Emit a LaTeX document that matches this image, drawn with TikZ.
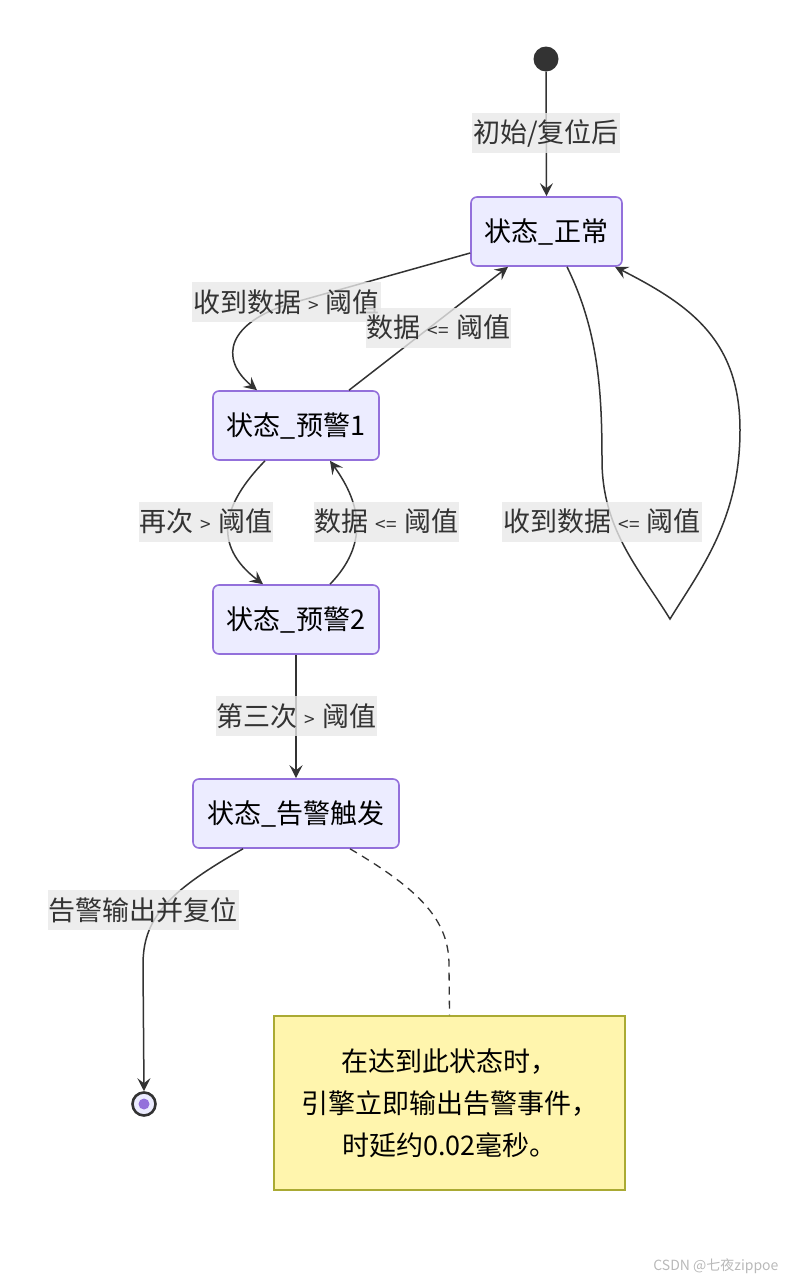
\documentclass[tikz,border=0pt]{standalone}
\usepackage{fontspec}
\setmainfont{Noto Sans CJK SC}
\usetikzlibrary{arrows.meta,calc}
\definecolor{stfill}{HTML}{ECECFF}
\definecolor{stdraw}{HTML}{9370DB}
\definecolor{ln}{HTML}{333333}
\definecolor{lblbg}{HTML}{E8E8E8}
\definecolor{notefill}{HTML}{FFF5AD}
\definecolor{notedraw}{HTML}{AAAA33}
\newcommand{\opsym}[1]{\hspace{7pt}{\fontsize{19}{20}\selectfont #1}\hspace{7pt}}
\tikzset{
  statebox/.style={draw=stdraw, fill=stfill, line width=1.6pt, rounded corners=6pt,
    minimum height=69pt, inner sep=0pt, font=\fontsize{27}{30}\selectfont, text=black},
  notebox/.style={draw=notedraw, fill=notefill, line width=1.6pt, minimum width=351pt,
    minimum height=174pt, inner sep=0pt, align=center, font=\fontsize{27}{42}\selectfont, text=black},
  edge/.style={draw=ln, line width=1.5pt, -{Stealth[length=13pt,width=13pt,inset=5pt]}},
  lbl/.style={fill=lblbg, fill opacity=0.8, text opacity=1, text=ln, inner xsep=1pt,
    minimum height=40pt, inner ysep=0pt, font=\fontsize{27}{30}\selectfont},
}
\begin{document}
\begin{tikzpicture}[x=1pt,y=-1pt]
\useasboundingbox (0,0) rectangle (787,1280);
% states
\node[circle, fill=ln, minimum size=25pt, inner sep=0pt] (start) at (546,59) {};
\node[statebox, minimum width=151pt] (n) at (546.5,231.5) {状态\_正常};
\node[statebox, minimum width=166pt] (w1) at (296,425.5) {状态\_预警1};
\node[statebox, minimum width=166pt] (w2) at (296,619.5) {状态\_预警2};
\node[statebox, minimum width=206pt] (al) at (296,813.5) {状态\_告警触发};
\node[circle, draw=ln, line width=2.6pt, fill=stfill, minimum size=23pt, inner sep=0pt] (end) at (144,1104) {};
\node[circle, fill=stdraw, minimum size=11pt, inner sep=0pt] (endin) at (end.center) {};
\node[notebox] (note) at (449.5,1103) {在达到此状态时，\\引擎立即输出告警事件，\\时延约0.02毫秒。};
% edges
\draw[edge] (start) -- (n.north);
\draw[edge] ([yshift=-21.5pt]n.west) -- (292,303) .. controls (228,322) and (218,358) .. ([xshift=-39pt]w1.north);
\draw[edge] ([xshift=53pt]w1.north) -- ([xshift=-38.5pt]n.south);
\draw[edge] ([xshift=20.5pt]n.south) .. controls (598,330) and (602,390) .. (602,460)
  .. controls (602,530) and (640,570) .. (670,619)
  .. controls (700,570) and (740,520) .. (740,430)
  .. controls (740,340) and (690,305) .. ([xshift=68.5pt]n.south);
\draw[edge] ([xshift=-31pt]w1.south) .. controls (222,505) and (212,545) .. ([xshift=-33pt]w2.north);
\draw[edge] ([xshift=34pt]w2.north) .. controls (368,545) and (362,505) .. ([xshift=34pt]w1.south);
\draw[edge] (w2.south) -- (al.north);
\draw[edge] ([xshift=-53pt]al.south) .. controls (165,893) and (143,920) .. (143,965) -- (end.north);
\draw[draw=ln, line width=1.3pt, dash pattern=on 8pt off 6pt] ([xshift=54pt]al.south) .. controls (420,890) and (449,920) .. (449,965) -- (note.north);
% labels
\node[lbl] (l0) at (546,133) {初始/复位后};
\node[lbl] (l1) at (286.5,302) {收到数据\opsym{>}阈值};
\node[lbl] (l2) at (438.5,327.5) {数据\opsym{<=}阈值};
\node[lbl] (l3) at (206,521.5) {再次\opsym{>}阈值};
\node[lbl] (l4) at (386.5,521.5) {数据\opsym{<=}阈值};
\node[lbl] (l5) at (602,521.5) {收到数据\opsym{<=}阈值};
\node[lbl] (l6) at (296.5,716) {第三次\opsym{>}阈值};
\node[lbl] (l7) at (143,910) {告警输出并复位};
% watermark
\node[text=gray!55, font=\fontsize{14}{16}\selectfont, anchor=east] (wm) at (782,1266) {CSDN @七夜zippoe};
\end{tikzpicture}
\end{document}
